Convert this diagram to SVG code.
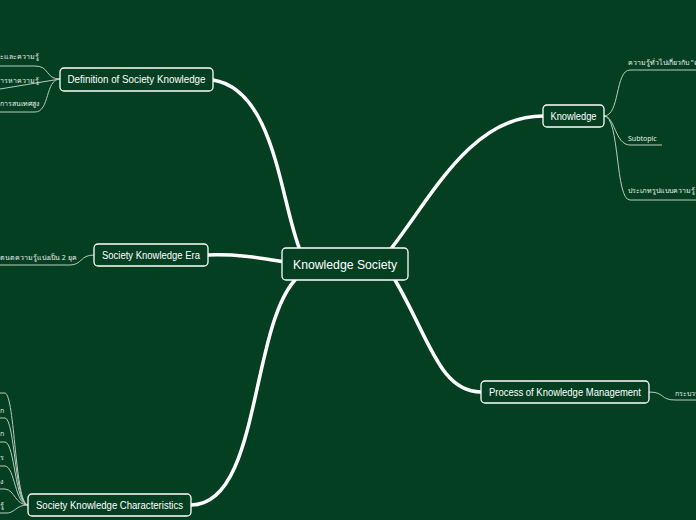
<svg xmlns="http://www.w3.org/2000/svg" width="696" height="520" viewBox="0 0 696 520">
<style>
.n rect{fill:#053f22;stroke:#fff;stroke-width:1.3}
.n text{fill:#fff;font-family:"Liberation Sans",sans-serif;font-size:10px;text-anchor:middle;dominant-baseline:central}
.c text{font-size:13px}
.t{fill:#e6eee8;font-family:"Noto Sans","DejaVu Sans",sans-serif;font-size:7px}
.m{fill:none;stroke:#fff;stroke-linecap:round}
.s{fill:none;stroke:#b9cbbf;stroke-width:1}
</style>
<rect width="696" height="520" fill="#053f22"/>
<g id="connectors">
<path class="m" stroke-width="3.5" d="M300,250 C280,200 275,90 213,80"/>
<path class="m" stroke-width="3.5" d="M285,262 C260,258 240,254 208,255"/>
<path class="m" stroke-width="3.5" d="M295,280 C250,330 260,505 191,505"/>
<path class="m" stroke-width="3.5" d="M390,250 C430,200 470,116 543,116"/>
<path class="m" stroke-width="3.5" d="M395,280 C430,340 440,392 481,392"/>
<path class="s" d="M60,79 C45,79 50,66 35,66 L0,66 M60,79 L0,89 M60,79 C45,79 50,112 35,112 L0,112"/>
<path class="s" d="M94,255 C80,255 82,265 70,265 L0,265"/>
<path class="s" d="M604,116 C620,116 615,70 630,70 L696,70 M604,116 C615,116 615,145 630,145 L662,145 M604,116 C620,116 615,200 630,200 L696,200"/>
<path class="s" d="M649,392 C665,392 660,400 675,400 L696,400"/>
<path class="s" d="M28,505 C15,505 15,395 5,393 L0,393 M28,505 C15,505 15,419 5,418 L0,418 M28,505 C15,505 15,443 5,442 L0,442 M28,505 C15,505 15,467 5,466 L0,466 M28,505 C15,505 15,490 5,489 L0,489 M28,505 C15,505 15,514 5,513 L0,513"/>
</g>
<g id="central" class="n c"><rect x="282" y="248" width="126" height="32" rx="4"/><text x="345" y="264" textLength="104" lengthAdjust="spacingAndGlyphs">Knowledge Society</text></g>
<g id="definition" class="n"><rect x="60" y="68" width="153" height="23" rx="4"/><text x="136.5" y="79.5" textLength="138" lengthAdjust="spacingAndGlyphs">Definition of Society Knowledge</text></g>
<g id="era" class="n"><rect x="94" y="244" width="114" height="22" rx="4"/><text x="151" y="255" textLength="98" lengthAdjust="spacingAndGlyphs">Society Knowledge Era</text></g>
<g id="characteristics" class="n"><rect x="28" y="494" width="163" height="22" rx="4"/><text x="109.5" y="505" textLength="147" lengthAdjust="spacingAndGlyphs">Society Knowledge Characteristics</text></g>
<g id="knowledge" class="n"><rect x="543" y="105" width="61" height="22" rx="4"/><text x="573.5" y="116" textLength="46" lengthAdjust="spacingAndGlyphs">Knowledge</text></g>
<g id="process" class="n"><rect x="481" y="381" width="168" height="22" rx="4"/><text x="565" y="392" textLength="152" lengthAdjust="spacingAndGlyphs">Process of Knowledge Management</text></g>
<g id="labels">
<text class="t" x="0" y="59">ะและความรู้</text>
<text class="t" x="0" y="83">ารหาความรู้</text>
<text class="t" x="0" y="106">การสนเทศสูง</text>
<text class="t" x="0" y="260">ตนตความรู้แบ่งเป็น 2 ยุค</text>
<text class="t" x="628" y="65">ความรู้ทั่วไปเกี่ยวกับ "ค</text>
<text class="t" x="628" y="141">Subtopic</text>
<text class="t" x="628" y="193">ประเภทรูปแบบความรู้ :</text>
<text class="t" x="675" y="396">กระบวน</text>
<text class="t" x="0" y="388">ู้</text>
<text class="t" x="0" y="413">ก</text>
<text class="t" x="0" y="436">ก</text>
<text class="t" x="0" y="460">ร</text>
<text class="t" x="0" y="484">ง</text>
<text class="t" x="0" y="508">รู้</text>
</g>
</svg>
